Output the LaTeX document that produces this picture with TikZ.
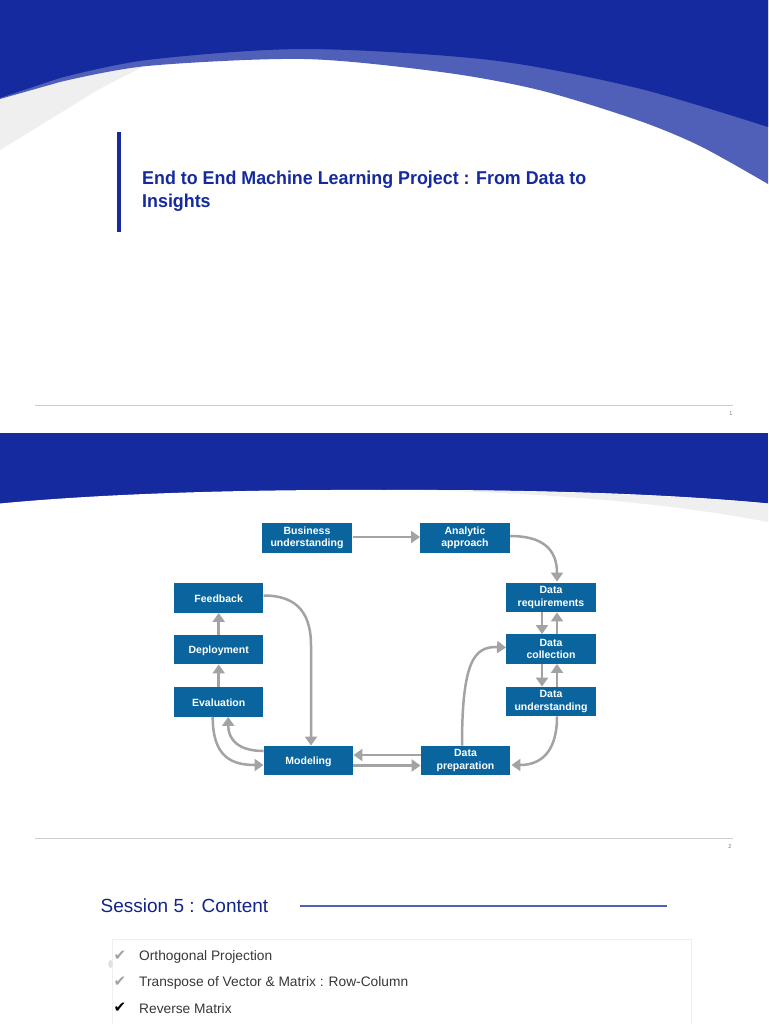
\documentclass[tikz,border=0pt]{standalone}
\usepackage{fontspec}
\setmainfont{Liberation Sans}
\newfontfamily\symfont{DejaVu Sans}
\newfontfamily\titlefont[FakeStretch=0.96]{Liberation Sans}
\usetikzlibrary{arrows.meta}
\definecolor{navy}{HTML}{152A9F}
\definecolor{midblue}{HTML}{5060B8}
\definecolor{palegrey}{HTML}{EFEFEF}
\definecolor{boxblue}{HTML}{0A659E}
\definecolor{arrowgrey}{HTML}{A3A3A3}
\definecolor{ruleline}{HTML}{CFCFCF}
\tikzset{
  stagebox/.style={fill=boxblue,draw=none,minimum width=89.5pt,minimum height=29.5pt,inner sep=0pt,
    align=center,text=white,font=\fontsize{10.5}{12.5}\selectfont\bfseries,
    execute at begin node={\rule{0pt}{10pt}}},
  flow/.style={draw=arrowgrey,line width=2.5pt,-{Triangle[length=9pt,width=12pt]}},
  footrule/.style={draw=ruleline,line width=1pt},
  pagenum/.style={font=\fontsize{5.5}{6}\selectfont,text=black!55,inner sep=0pt},
  item/.style={anchor=west,inner sep=0pt,font=\fontsize{13.75}{15}\selectfont,text=black!78},
  tick/.style={inner sep=0pt,font=\symfont\fontsize{15}{16}\selectfont}
}
\begin{document}
\begin{tikzpicture}[x=1pt,y=-1pt]
\useasboundingbox (0,0) rectangle (768,1024);
\fill[white] (0,0) rectangle (768,1024);
% slide 1 header
\fill[palegrey] plot[smooth] coordinates {(0,98) (70,78) (145,64)} -- plot[smooth] coordinates {(137,70) (98,90) (49,120) (0,150)} -- cycle;
\fill[midblue] (0,0) -- (0,99) -- plot[smooth] coordinates {(60,82) (147,66) (304,59) (441,72) (539,90) (637,120) (700,146) (768,184)} -- (768,0) -- cycle;
\fill[navy] (0,0) -- (0,98) -- plot[smooth] coordinates {(60,78) (147,60) (304,49) (490,60) (637,88) (768,127)} -- (768,0) -- cycle;
\fill[navy] (117,132) rectangle (121,232);
\node[anchor=north west,inner sep=0pt,align=left,text=navy,
  font=\titlefont\fontsize{18.6}{23}\selectfont\bfseries] (title) at (142,170.5)
  {End to End Machine Learning Project : From Data to\\Insights};
\coordinate (rule1a) at (35,405); \coordinate (rule1b) at (733,405);
\draw[footrule] (rule1a) -- (rule1b);
\node[pagenum] (num1) at (731,414) {1};
% slide 2 header
\fill[navy] (0,433) rectangle (768,503.5);
\fill[white] (0,503.5) .. controls (120,492) and (270,489.5) .. (384,490) .. controls (500,489.5) and (650,492) .. (768,503.5) -- (768,505) -- (0,505) -- cycle;
\fill[palegrey] (420,490.3) .. controls (560,493) and (680,505) .. (768,522) -- (768,503.5) .. controls (650,493) and (530,490.5) .. (420,490.3) -- cycle;
% process boxes
\node[stagebox] (biz) at (307,538) {Business\\understanding};
\node[stagebox] (ana) at (465,538) {Analytic\\approach};
\node[stagebox] (feed) at (218.7,598) {Feedback};
\node[stagebox] (dep) at (218.7,649.5) {Deployment};
\node[stagebox] (eva) at (218.7,702) {Evaluation};
\node[stagebox] (req) at (551,597.5) {Data\\requirements};
\node[stagebox] (col) at (551,649) {Data\\collection};
\node[stagebox] (und) at (551,701.5) {Data\\understanding};
\node[stagebox] (mod) at (308.5,760.5) {Modeling};
\node[stagebox] (pre) at (465.5,760.5) {Data\\preparation};
% connectors
\draw[flow] (biz.east) ++(1,-1) -- ([yshift=1pt]ana.west);
\draw[flow] ([yshift=2pt]ana.east) .. controls +(32,0) and ([xshift=6pt,yshift=34pt]req.north) .. ([xshift=6pt,yshift=1pt]req.north);
\draw[flow] ([xshift=-9pt]req.south) -- ([xshift=-9pt]col.north);
\draw[flow] ([xshift=6pt]col.north) -- ([xshift=6pt]req.south);
\draw[flow] ([xshift=-9pt]col.south) -- ([xshift=-9pt]und.north);
\draw[flow] ([xshift=6pt]und.north) -- ([xshift=6pt]col.south);
\draw[flow] ([xshift=6pt]und.south) .. controls ([xshift=6pt,yshift=-36pt]und.south) and ([xshift=30pt,yshift=-4.5pt]pre.east) .. ([yshift=-4.5pt,xshift=1pt]pre.east);
\draw[flow] ([xshift=-3.5pt]pre.north) .. controls ([xshift=-3.5pt,yshift=84pt]pre.north) and ([xshift=-32pt,yshift=3pt]col.west) .. ([yshift=1.5pt]col.west);
\draw[flow] ([yshift=5.5pt]pre.west) -- ([yshift=5.5pt]mod.east);
\draw[flow] ([yshift=-5pt]mod.east) -- ([yshift=-5pt]pre.west);
\draw[flow] ([yshift=2.5pt]feed.east) .. controls ([xshift=30pt,yshift=2.5pt]feed.east) and ([xshift=2.5pt,yshift=136pt]mod.north) .. ([xshift=2.5pt,yshift=100pt]mod.north) -- ([xshift=2.5pt]mod.north);
\draw[flow] ([xshift=-6pt]eva.south) .. controls ([xshift=-6pt,yshift=-40pt]eva.south) and ([xshift=-32pt,yshift=-4.5pt]mod.west) .. ([yshift=-4.5pt]mod.west);
\draw[flow] ([yshift=9.5pt]mod.west) .. controls ([xshift=-26pt,yshift=9.5pt]mod.west) and ([xshift=9.5pt,yshift=-22pt]eva.south) .. ([xshift=9.5pt]eva.south);
\draw[flow] (eva.north) -- (dep.south);
\draw[flow] (dep.north) -- (feed.south);
\coordinate (rule2a) at (35,838); \coordinate (rule2b) at (733,838);
\draw[footrule] (rule2a) -- (rule2b);
\node[pagenum] (num2) at (730,847) {2};
% slide 3
\node[anchor=west,inner sep=0pt,text=navy!85!black,font=\fontsize{19}{20}\selectfont] (sess) at (100.5,906) {Session 5 : Content};
\coordinate (sa) at (300,906); \coordinate (sb) at (667,906);
\draw[draw=midblue,line width=1.2pt] (sa) -- (sb);
\draw[draw=palegrey,line width=0.8pt] (112,1025) -- (112,939) -- (691,939) -- (691,1025);
\fill[black!12] (110.5,964) ellipse (2.2 and 4);
\node[tick,text=arrowgrey] (t1) at (120,956) {✔};
\node[tick,text=arrowgrey] (t2) at (120,982) {✔};
\node[tick,text=black] (t3) at (120,1008) {✔};
\node[item] (i1) at (139,957) {Orthogonal Projection};
\node[item] (i2) at (139,983) {Transpose of Vector \& Matrix : Row-Column};
\node[item] (i3) at (139,1008.5) {Reverse Matrix};
\end{tikzpicture}
\end{document}
